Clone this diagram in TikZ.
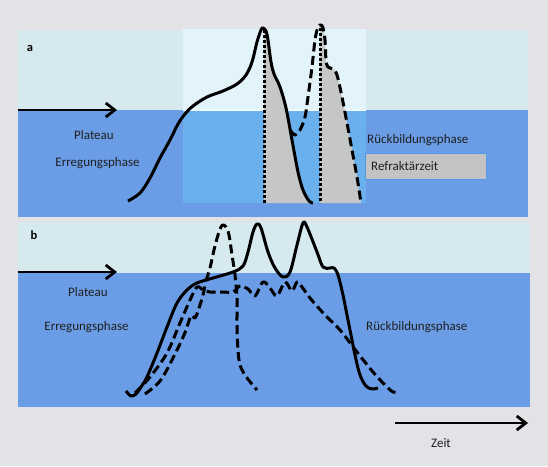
\documentclass[tikz,border=0pt]{standalone}
\usepackage{fontspec}
\setmainfont{Carlito}
\usetikzlibrary{arrows.meta}
\definecolor{bgpage}{HTML}{E3E3E7}
\definecolor{lightband}{HTML}{D6E9EF}
\definecolor{blueband}{HTML}{6A9DE5}
\definecolor{hlup}{HTML}{E2F3F9}
\definecolor{hlblue}{HTML}{6AB0EC}
\definecolor{greyfill}{HTML}{C4C7C5}
\definecolor{refgrey}{HTML}{C3C3C3}
\definecolor{refborder}{HTML}{4F9BE8}
\tikzset{
  curve/.style={line width=3pt, line join=round},
  dashcurve/.style={curve, dash pattern=on 9pt off 4.5pt},
  dotline/.style={line width=3pt, dash pattern=on 2.6pt off 2.4pt},
  bigarrow/.style={line width=2.8pt, -{Straight Barb[length=9pt,width=14pt]}},
  lbl/.style={font=\fontsize{13}{15}\selectfont, inner sep=0pt, text=black!88},
  panellbl/.style={font=\fontsize{12.5}{14}\selectfont\bfseries, inner sep=0pt},
}
\begin{document}
\begin{tikzpicture}[x=1pt,y=-1pt]
\useasboundingbox (0,0) rectangle (548,466);
\fill[bgpage] (0,0) rectangle (548,466);
% panel a
\fill[lightband] (18,30) rectangle (528,110);
\fill[blueband] (18,110) rectangle (528,217);
\fill[hlup] (183,29) rectangle (366,110);
\fill[hlblue] (183,110) rectangle (366,203);
\draw[white, line width=1pt] (183,110) -- (366,110);
% panel b
\fill[lightband] (18,222) rectangle (530,273);
\fill[blueband] (18,273) rectangle (530,407);
% grey fills panel a
\fill[greyfill] (264,203) -- (264,29) -- plot[smooth, tension=0.55] coordinates {(264,29) (266,31) (268,40) (271,62) (274,74) (280,87) (286,108) (292,140) (298,172) (303,190) (309,201) (313,203)} -- cycle;
\fill[greyfill] (320,203) -- (320,26) -- plot[smooth, tension=0.55] coordinates {(321,25) (323,28) (325,40) (326,60) (328,67) (333,69) (337,75) (342,97) (347,123) (352,150) (357,177) (361,203)} -- cycle;
% dotted lines
\coordinate (d1t) at (264,30); \coordinate (d1b) at (264,203);
\coordinate (d2t) at (320,28); \coordinate (d2b) at (320,203);
\draw[dotline] (d1t) -- (d1b);
\draw[dotline] (d2t) -- (d2b);
% curves panel a
\draw[curve] plot[smooth, tension=0.55] coordinates {(128,201) (140,193) (150,178) (160,158) (170,140) (178,124) (185,114) (193,106) (207,97) (223,91) (237,84) (246,75) (252,62) (257,42) (261,30) (263,28) (266,31) (268,40) (271,62) (274,74) (280,87) (286,108) (292,140) (298,172) (303,190) (309,201) (313,203)};
\draw[dashcurve] plot[smooth, tension=0.55] coordinates {(290,130) (295,135) (300,130) (305,117) (308,97) (312,67) (315,40) (318,27) (321,25) (323,28) (325,40) (326,60) (328,67) (333,69) (337,75) (342,97) (347,123) (352,150) (357,177) (361,203)};
% refraktaerzeit box
\draw[fill=refgrey, draw=refborder, line width=1pt] (365,153) rectangle (486,179);
\node[lbl, anchor=west] (refr) at (371,166) {Refraktärzeit};
\node[lbl, anchor=west] (rueckA) at (367,140) {Rückbildungsphase};
\node[lbl] (platA) at (94,135) {Plateau};
\node[lbl] (erregA) at (97.5,163) {Erregungsphase};
\node[panellbl] (la) at (30,48) {a};
% curves panel b
\draw[curve] plot[smooth, tension=0.55] coordinates {(126,391) (131,396) (136,394) (141,387) (147,377) (157,353) (167,327) (177,303) (187,290) (197,283) (213,278) (233,272) (243,266) (248,252) (253,232) (257,224) (261,228) (268,252) (275,268) (283,277) (290,272) (297,245) (303,223) (307,227) (317,252) (323,267) (330,268) (334,268) (338,275) (343,295) (347,315) (351,335) (355,355) (360,375) (366,386) (372,389) (378,388)};
\draw[dashcurve] plot[smooth, tension=0.55] coordinates {(135,393) (150,377) (167,353) (180,323) (190,300) (197,287) (203,290) (210,292) (223,292) (233,292) (240,286) (248,289) (255,296) (263,282) (270,288) (277,296) (285,282) (292,291) (297,282) (302,287) (310,298) (325,315) (340,330) (357,352) (373,372) (385,385) (393,392) (398,392)};
\draw[dashcurve] plot[smooth, tension=0.55] coordinates {(145,394) (160,381) (173,358) (184,335) (191,316) (195,318) (199,308) (203,295) (205,285)};
\draw[dashcurve] plot[smooth, tension=0.55] coordinates {(206,281) (210,268) (214,250) (218,235) (221,227) (223,225) (226,227) (229,235) (232,255) (235,275) (237,298) (237,325) (238,350) (240,365) (245,375) (251,383) (257,390)};
\node[lbl] (platB) at (88,292) {Plateau};
\node[lbl] (erregB) at (86.5,327) {Erregungsphase};
\node[lbl, anchor=west] (rueckB) at (366,327) {Rückbildungsphase};
\node[panellbl] (lb) at (34,235) {b};
% arrows
\coordinate (aa1) at (18,110); \coordinate (aa2) at (117,110);
\coordinate (ba1) at (18,272); \coordinate (ba2) at (117,272);
\coordinate (z1) at (395,423); \coordinate (z2) at (528,423);
\draw[bigarrow] (aa1) -- (aa2);
\draw[bigarrow] (ba1) -- (ba2);
\draw[bigarrow] (z1) -- (z2);
\node[lbl] (zeit) at (441,443) {Zeit};
\end{tikzpicture}
\end{document}
